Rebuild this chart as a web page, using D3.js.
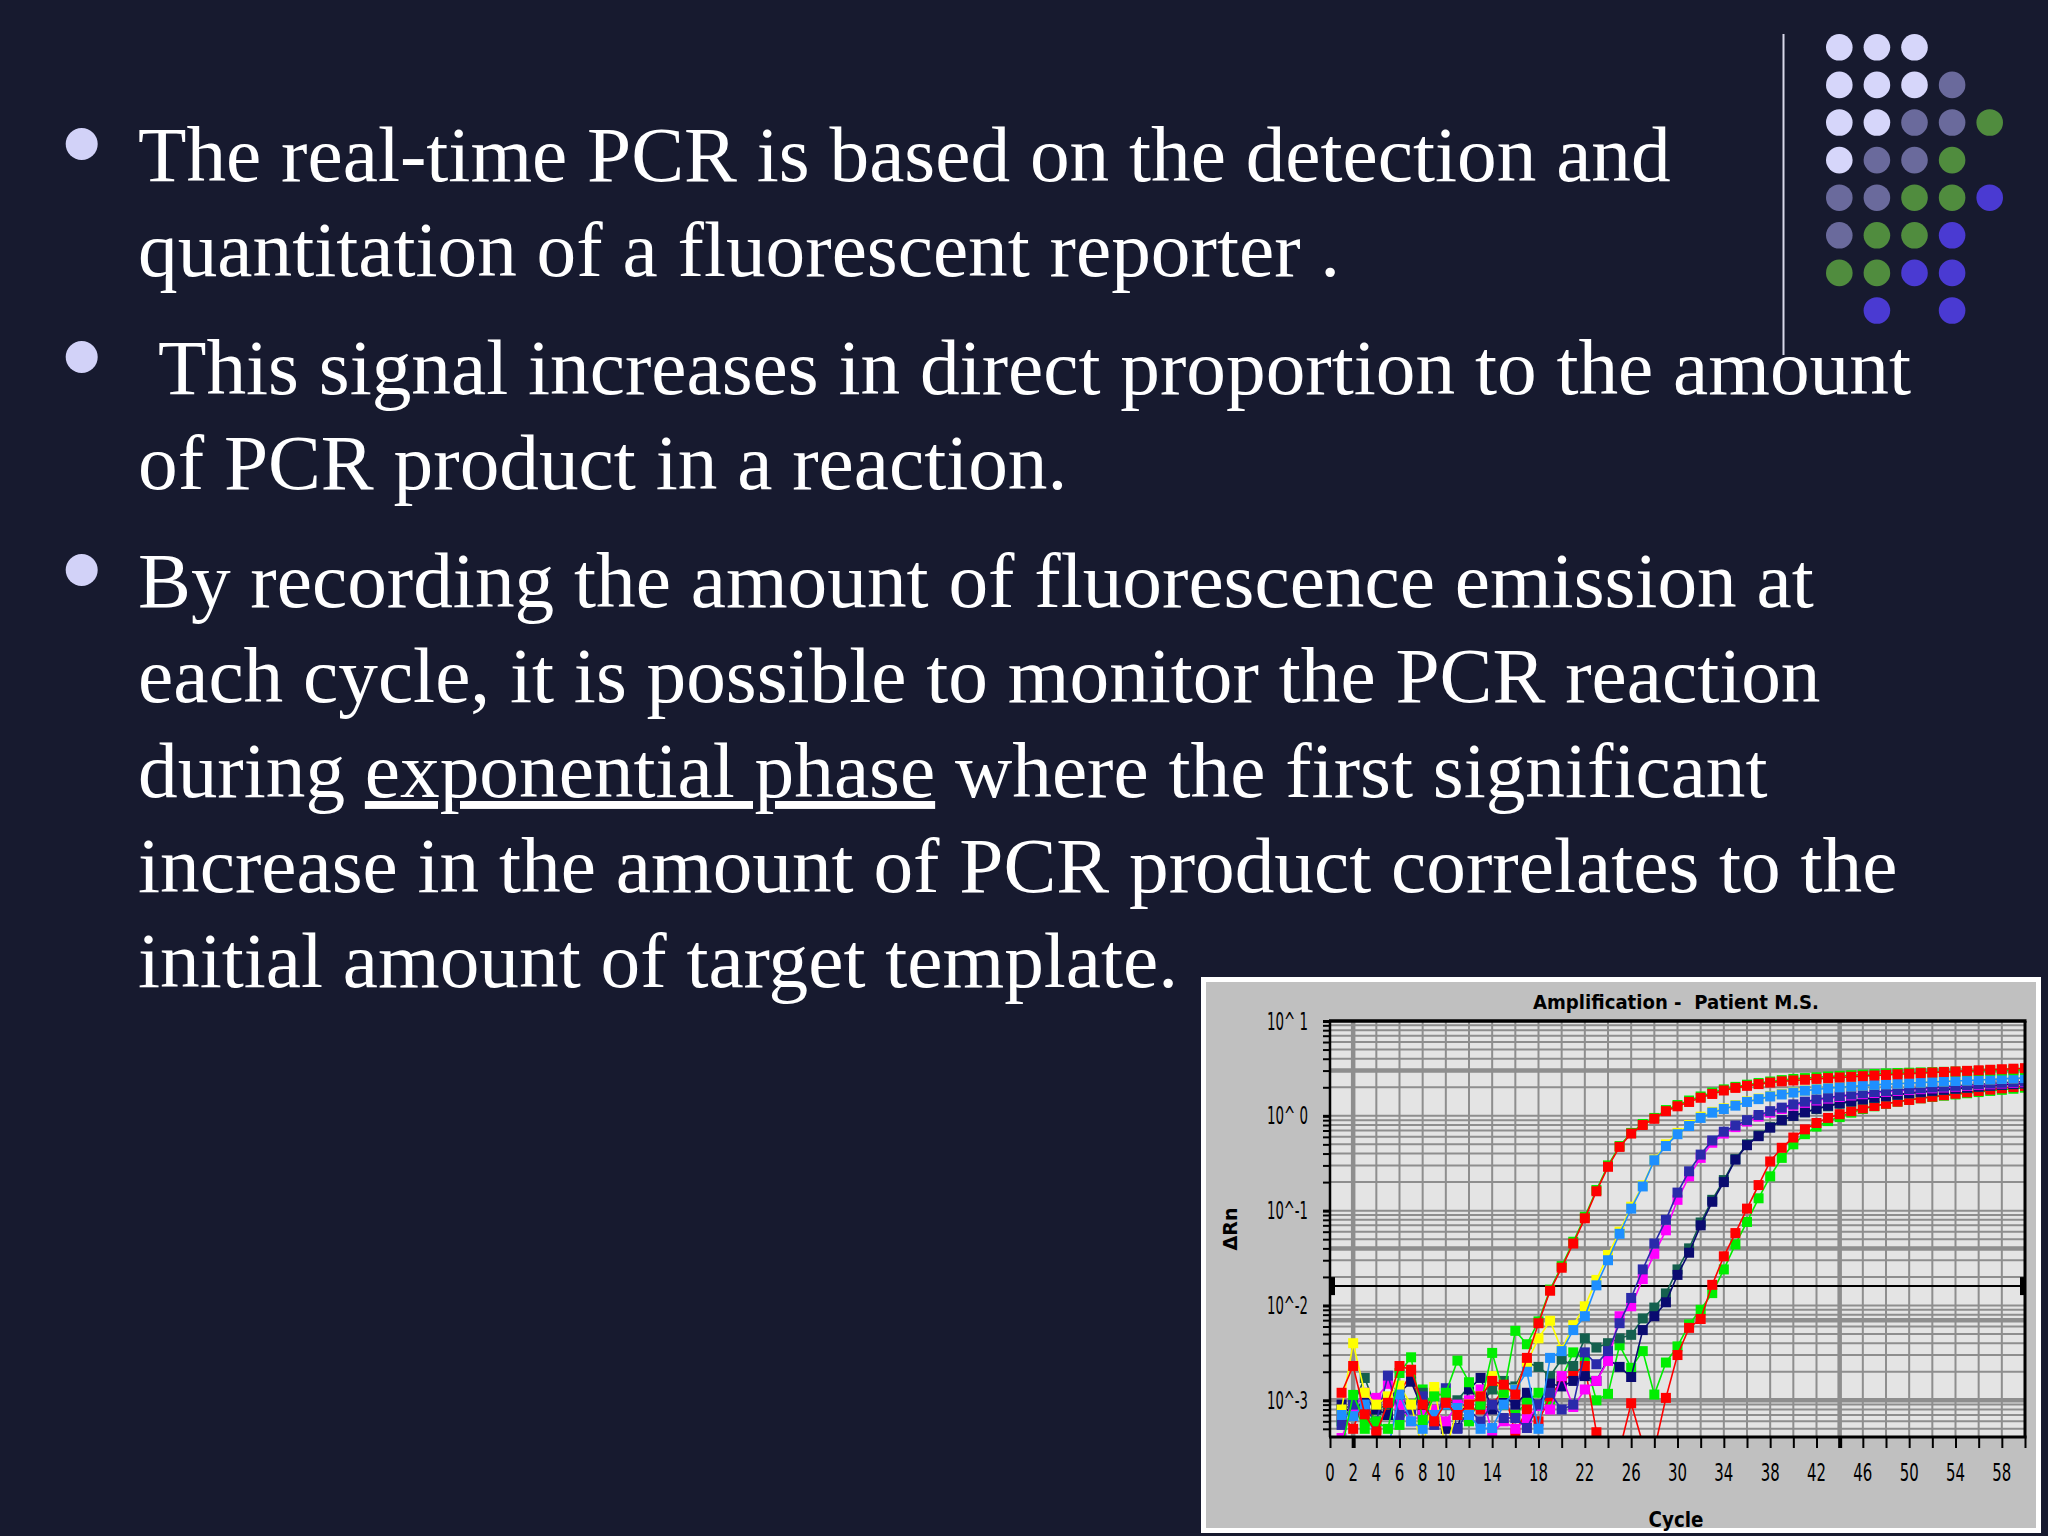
<!DOCTYPE html>
<html><head><meta charset="utf-8">
<script src="https://cdn.jsdelivr.net/npm/d3@7"></script>
<style>html,body{margin:0;padding:0;background:#171a2f;overflow:hidden}</style>
</head><body>
<svg id="s" width="2048" height="1536" xmlns="http://www.w3.org/2000/svg"></svg>
<script>
// ---------------- DATA ----------------
const cycles = d3.range(1, 61);

const redA = [0.0012,0.0023,0.00071,0.00045,0.00094,0.0023,0.0021,0.0009,0.0006,0.00094,
  0.0007,0.0009,0.0011,0.0016,0.00146,0.00115,0.0028,0.0065,0.0143,0.025,
  0.045,0.083,0.16,0.29,0.47,0.65,0.80,0.93,1.12,1.26,
  1.40,1.55,1.70,1.85,1.97,2.07,2.16,2.24,2.31,2.36,
  2.40,2.45,2.50,2.54,2.58,2.62,2.66,2.70,2.74,2.78,
  2.82,2.86,2.90,2.94,2.98,3.02,3.06,3.10,3.14,3.18];
const greenA = [0.0003,0.00114,0.0006,0.0006,0.0005,0.00194,0.00284,0.00062,0.0011,0.0012,
  0.00262,0.00155,0.0009,0.00316,0.0012,0.0054,0.0039,0.0068,0.0147,0.026,
  0.047,0.086,0.165,0.30,0.48,0.66,0.82,0.95,1.15,1.30,
  1.45,1.60,1.76,1.90,2.02,2.13,2.22,2.30,2.38,2.45,
  2.50,2.55,2.60,2.64,2.68,2.72,2.76,2.80,2.83,2.85,
  2.87,2.89,2.91,2.93,2.95,2.97,2.99,3.01,3.03,3.05];
const blueB = [0.0007,0.00068,0.0009,0.00035,0.0003,0.00115,0.0006,0.0005,0.0007,0.0009,
  0.00083,0.0007,0.0005,0.00051,0.0009,0.0013,0.002,0.0005,0.0028,0.0033,
  0.0055,0.0077,0.0163,0.030,0.057,0.105,0.18,0.34,0.48,0.64,
  0.78,0.95,1.08,1.18,1.28,1.40,1.50,1.60,1.68,1.76,
  1.84,1.90,1.95,2.00,2.04,2.08,2.12,2.15,2.18,2.21,
  2.24,2.27,2.30,2.33,2.36,2.39,2.42,2.45,2.48,2.50];
const yellowB = [0.0008,0.004,0.0012,0.0009,0.0011,0.00143,0.0009,0.0003,0.00138,0.0003,
  0.0008,0.0009,0.0011,0.0018,0.0012,0.0013,0.0025,0.0045,0.0069,0.0034,
  0.0062,0.0098,0.0186,0.034,0.06,0.11,0.185,0.345,0.50,0.66,
  0.80,0.98,1.10,1.20,1.30,1.42,1.52,1.62,1.70,1.78,
  1.85,1.91,1.96,2.01,2.05,2.09,2.13,2.16,2.19,2.22,
  2.25,2.28,2.31,2.34,2.37,2.40,2.43,2.46,2.49,2.52];
const indigoC = [0.00055,0.0009,0.0008,0.0006,0.00182,0.0007,0.0008,0.0011,0.00055,0.00134,
  0.0005,0.0008,0.0006,0.0009,0.00065,0.00065,0.00051,0.0009,0.0012,0.0008,
  0.0009,0.0032,0.0024,0.0033,0.0065,0.012,0.024,0.045,0.08,0.155,
  0.26,0.39,0.55,0.68,0.79,0.90,1.02,1.12,1.22,1.32,
  1.41,1.49,1.56,1.62,1.68,1.73,1.78,1.83,1.87,1.91,
  1.95,1.99,2.03,2.07,2.11,2.15,2.19,2.23,2.27,2.30];
const magentaC = [0.0004,0.00081,0.0012,0.00106,0.00149,0.0009,0.0006,0.0007,0.0008,0.0006,
  0.0009,0.001,0.0013,0.00045,0.0006,0.0005,0.00063,0.00087,0.0008,0.0018,
  0.00085,0.0013,0.0016,0.0026,0.0077,0.0098,0.019,0.035,0.062,0.13,
  0.23,0.36,0.52,0.65,0.76,0.87,0.98,1.08,1.18,1.28,
  1.37,1.45,1.52,1.58,1.64,1.69,1.74,1.79,1.83,1.87,
  1.91,1.95,1.99,2.03,2.07,2.11,2.15,2.19,2.23,2.26];
const navyD = [0.0009,0.0007,0.00108,0.0008,0.0007,0.0012,0.00157,0.0008,0.0006,0.0005,
  0.00051,0.0013,0.00172,0.0008,0.0011,0.0009,0.0012,0.0009,0.0015,0.0014,
  0.0016,0.0018,0.0016,0.0027,0.00225,0.00176,0.0055,0.0077,0.0108,0.021,
  0.036,0.07,0.124,0.20,0.345,0.49,0.61,0.75,0.90,1.00,
  1.09,1.19,1.28,1.36,1.43,1.50,1.56,1.62,1.68,1.74,
  1.79,1.84,1.89,1.94,1.99,2.04,2.09,2.13,2.17,2.21];
const tealD = [0.0008,0.0009,0.00172,0.0008,0.0009,0.0011,0.0008,0.0012,0.0007,0.0009,
  0.0010,0.0014,0.0009,0.0013,0.0016,0.0014,0.0025,0.00225,0.0018,0.0027,
  0.0023,0.0045,0.0036,0.004,0.0045,0.0049,0.0073,0.0095,0.0134,0.024,
  0.04,0.075,0.13,0.21,0.35,0.50,0.62,0.76,0.90,1.00,
  1.09,1.18,1.26,1.34,1.41,1.48,1.54,1.60,1.66,1.72,
  1.77,1.82,1.87,1.92,1.97,2.02,2.07,2.11,2.15,2.19];
const redE = [0.0007,0.0005,0.0011,0.0005,0.0008,0.0012,0.0019,0.0007,0.0012,0.0011,
  0.0009,0.0008,0.0008,0.0009,0.0013,0.00045,0.0008,0.0006,0.0011,0.0016,
  0.0019,0.0023,0.00046,0.0003,0.0003,0.00093,0.00035,0.0003,0.00106,0.003,
  0.0058,0.0072,0.0165,0.033,0.058,0.105,0.186,0.33,0.46,0.59,
  0.72,0.84,0.95,1.04,1.12,1.20,1.27,1.34,1.41,1.47,
  1.53,1.59,1.65,1.71,1.77,1.83,1.89,1.95,2.01,2.07];
const greenE = [0.0006,0.0009,0.0005,0.0008,0.0007,0.00055,0.0009,0.0013,0.0008,0.0009,
  0.0007,0.0006,0.0011,0.00155,0.0009,0.0007,0.00097,0.0012,0.00089,0.0017,
  0.0032,0.0027,0.0010,0.00117,0.0038,0.0022,0.0033,0.00115,0.0025,0.0037,
  0.0063,0.009,0.0135,0.024,0.044,0.076,0.135,0.23,0.36,0.50,
  0.64,0.77,0.88,0.97,1.08,1.18,1.26,1.34,1.41,1.47,
  1.53,1.58,1.63,1.68,1.73,1.78,1.83,1.88,1.93,1.98];

const seriesNames  = ["greenE","redE","tealD","navyD","magentaC","indigoC","yellowB","blueB","greenA","redA"];
const seriesValues = [greenE, redE, tealD, navyD, magentaC, indigoC, yellowB, blueB, greenA, redA];
const seriesColors = ["#00ee00","#ff0000","#14604e","#0a0a70","#ff00ff","#2a2aaa","#ffff00","#1e8fff","#00ee00","#ff0000"];

const thresholdValue = 0.016;
const xTickLabels = [0,2,4,6,8,10,14,18,22,26,30,34,38,42,46,50,54,58];
const yTickValues = [10,1,0.1,0.01,0.001];
const yTickLabels = ["10^ 1","10^ 0","10^-1","10^-2","10^-3"];
const chartTitle = "Amplification -  Patient M.S.";
const xAxisTitle = "Cycle";
const yAxisTitle = "\u0394Rn";

const paragraphs = [
  ["The real-time PCR is based on the detection and", "quantitation of a fluorescent reporter ."],
  ["This signal increases in direct proportion to the amount", "of PCR product in a reaction."],
  ["By recording the amount of fluorescence emission at",
   "each cycle, it is possible to monitor the PCR reaction",
   ["during ", "exponential phase", " where the first significant"],
   "increase in the amount of PCR product correlates to the",
   "initial amount of target template."]
];
const dotRows = ["LLL..","LLLM.","LLMMG","LMMG.","MMGGB","MGGB.","GGBB.",".B.B."];
const dotPalette = {L:"#d6d6fa", M:"#6a6a9c", G:"#508c3e", B:"#4a3ad2"};

// ---------------- DRAW ----------------
const svg = d3.select("#s");
svg.append("rect").attr("width",2048).attr("height",1536).attr("fill","#171a2f");

// slide text
const serif = "'Liberation Serif','Times New Roman',serif";
const baselines = [[181,276],[394,489],[607,702,797,892,987]];
const lineX = [[138,138],[158,138],[138,138,138,138,138]];
paragraphs.forEach((para, pi) => {
  svg.append("circle").attr("cx",81.7).attr("cy",baselines[pi][0]-37).attr("r",16).attr("fill","#d2d2f8");
  para.forEach((line, li) => {
    const t = svg.append("text").attr("x", lineX[pi][li]).attr("y", baselines[pi][li])
      .attr("font-family", serif).attr("font-size", 79.3).attr("fill", "#ffffff");
    if (Array.isArray(line)) {
      line.forEach((seg, si) => {
        const ts = t.append("tspan").text(seg);
        if (si === 1) ts.attr("text-decoration","underline").style("text-decoration","underline");
      });
    } else t.text(line);
  });
});

// decorative dots + separator
svg.append("line").attr("x1",1783.5).attr("x2",1783.5).attr("y1",34).attr("y2",355)
  .attr("stroke","#d8d8ea").attr("stroke-width",2);
dotRows.forEach((row, r) => {
  row.split("").forEach((ch, c) => {
    if (ch === ".") return;
    svg.append("circle").attr("cx",1839.3+37.6*c).attr("cy",47.3+37.6*r).attr("r",13.3).attr("fill",dotPalette[ch]);
  });
});

// chart frame
svg.append("rect").attr("x",1203.5).attr("y",979.5).attr("width",835).attr("height",551)
  .attr("fill","#c0c0c0").attr("stroke","#ffffff").attr("stroke-width",5);

const x0 = 1330, x1 = 2025, yTop = 1021, yBot = 1437;
const x = d3.scaleLinear().domain([0,60]).range([x0,x1]);
const y = d3.scaleLog().domain([4.1e-4, 10]).range([yBot, yTop]);

svg.append("rect").attr("x",x0).attr("y",yTop).attr("width",x1-x0).attr("height",yBot-yTop).attr("fill","#e4e4e4");

const defs = svg.append("defs");
defs.append("clipPath").attr("id","plotclip").append("rect")
  .attr("x",x0).attr("y",yTop).attr("width",x1-x0).attr("height",yBot-yTop);

const grid = svg.append("g");
const thickH = [3, 0.04, 0.007, 0.001];
y.ticks().forEach(v => {
  const thick = thickH.some(t => Math.abs(Math.log10(t) - Math.log10(v)) < 1e-6);
  grid.append("line").attr("x1",x0).attr("x2",x1).attr("y1",y(v)).attr("y2",y(v))
    .attr("stroke","#8e8e8e").attr("stroke-width", thick ? 4.5 : 2);
});
d3.range(2,60,2).forEach(c => {
  const thick = (c === 2 || c === 44);
  grid.append("line").attr("x1",x(c)).attr("x2",x(c)).attr("y1",yTop).attr("y2",yBot)
    .attr("stroke","#8e8e8e").attr("stroke-width", thick ? 4.5 : 2);
});

// threshold
svg.append("line").attr("x1",x0).attr("x2",x1).attr("y1",y(thresholdValue)).attr("y2",y(thresholdValue))
  .attr("stroke","#000").attr("stroke-width",2);
[x0, x1-5].forEach(px => svg.append("rect").attr("x",px).attr("y",y(thresholdValue)-9).attr("width",5).attr("height",18).attr("fill","#000"));

// series
const plot = svg.append("g").attr("clip-path","url(#plotclip)");
const line = d3.line().x((d,i)=>x(cycles[i])).y(d=>y(d));
seriesValues.forEach((vals, si) => {
  const g = plot.append("g").attr("class", seriesNames[si]);
  g.append("path").attr("d", line(vals)).attr("fill","none").attr("stroke",seriesColors[si]).attr("stroke-width",1.6);
  g.selectAll("rect").data(vals).enter().append("rect")
    .attr("x",(d,i)=>x(cycles[i])-5).attr("y",d=>y(d)-5).attr("width",10).attr("height",10)
    .attr("fill",seriesColors[si]);
});

// axes
const yAxis = d3.axisLeft(y).tickValues(y.ticks()).tickSize(7).tickFormat(()=>"");
const ya = svg.append("g").attr("transform",`translate(${x0},0)`).call(yAxis);
ya.select(".domain").remove();
ya.selectAll(".tick line").attr("stroke","#000").attr("stroke-width",d => yTickValues.includes(d) ? 3 : 2);
const xAxis = d3.axisBottom(x).tickValues(d3.range(0,61,2)).tickSize(11).tickFormat(()=>"");
const xa = svg.append("g").attr("transform",`translate(0,${yBot})`).call(xAxis);
xa.select(".domain").remove();
xa.selectAll(".tick line").attr("stroke","#000").attr("stroke-width",d => (d===2||d===44) ? 4 : 2);

// plot border
svg.append("line").attr("x1",x0-1).attr("x2",x1+1.5).attr("y1",yTop).attr("y2",yTop).attr("stroke","#000").attr("stroke-width",3.5);
svg.append("line").attr("x1",x0-1).attr("x2",x1+1.5).attr("y1",yBot).attr("y2",yBot).attr("stroke","#000").attr("stroke-width",3);
svg.append("line").attr("x1",x0).attr("x2",x0).attr("y1",yTop).attr("y2",yBot).attr("stroke","#000").attr("stroke-width",2.5);
svg.append("line").attr("x1",x1).attr("x2",x1).attr("y1",yTop).attr("y2",yBot).attr("stroke","#000").attr("stroke-width",3);

// labels
const sans = "'DejaVu Sans',sans-serif";
xTickLabels.forEach(v => {
  const s = String(v);
  svg.append("text").attr("x",x(v)).attr("y",1481).attr("text-anchor","middle")
    .attr("font-family",sans).attr("font-size",24).attr("fill","#000")
    .attr("textLength", s.length*9.5).attr("lengthAdjust","spacingAndGlyphs").text(s);
});
yTickValues.forEach((v,i) => {
  svg.append("text").attr("x",1308).attr("y",y(v)+8.5).attr("text-anchor","end")
    .attr("font-family",sans).attr("font-size",24).attr("fill","#000").style("white-space","pre")
    .attr("textLength",41).attr("lengthAdjust","spacingAndGlyphs").text(yTickLabels[i]);
});
svg.append("text").attr("x",1676).attr("y",1009).attr("text-anchor","middle").style("white-space","pre")
  .attr("font-family",sans).attr("font-weight","bold").attr("font-size",20).attr("fill","#000")
  .attr("textLength",286).attr("lengthAdjust","spacingAndGlyphs").text(chartTitle);
svg.append("text").attr("x",1676).attr("y",1527).attr("text-anchor","middle")
  .attr("font-family",sans).attr("font-weight","bold").attr("font-size",21).attr("fill","#000")
  .attr("textLength",55).attr("lengthAdjust","spacingAndGlyphs").text(xAxisTitle);
svg.append("text").attr("transform","translate(1237,1229) rotate(-90)").attr("text-anchor","middle")
  .attr("font-family",sans).attr("font-weight","bold").attr("font-size",19).attr("fill","#000")
  .attr("textLength",43).attr("lengthAdjust","spacingAndGlyphs").text(yAxisTitle);
</script>
</body></html>
